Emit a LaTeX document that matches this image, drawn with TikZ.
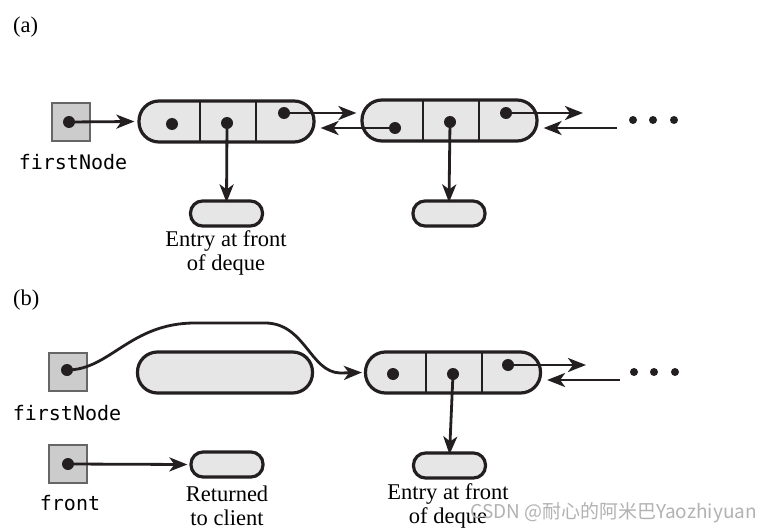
\documentclass[tikz,border=0pt]{standalone}
\usepackage{fontspec}
\setmainfont{Liberation Serif}
\setmonofont{DejaVu Sans Mono}
\newfontfamily\cjkfont{Noto Sans CJK SC}
\usetikzlibrary{arrows.meta}
\definecolor{pillgray}{HTML}{E6E6E6}
\definecolor{boxgray}{HTML}{CCCCCC}
\definecolor{ink}{HTML}{231F20}
\tikzset{
  pill/.style={draw=ink, line width=3.2pt, fill=pillgray, rounded corners=20pt, minimum width=175pt, minimum height=41pt, inner sep=0pt},
  smallpill/.style={draw=ink, line width=3.2pt, fill=pillgray, rounded corners=12pt, minimum width=72pt, minimum height=25pt, inner sep=0pt},
  refbox/.style={draw=black!60, line width=1.6pt, fill=boxgray, minimum size=38pt, inner sep=0pt},
  blob/.style={circle, fill=ink, minimum size=12pt, inner sep=0pt},
  edot/.style={circle, fill=ink, minimum size=8pt, inner sep=0pt},
  divider/.style={draw=ink, line width=2.6pt},
  ptr/.style={draw=ink, line width=2.8pt, -{Stealth[length=18pt,width=14pt,inset=5pt]}},
  codelabel/.style={font=\ttfamily\fontsize{20}{22}\selectfont, inner sep=0pt},
  textlabel/.style={font=\fontsize{22.5}{24}\selectfont, align=center, inner sep=0pt},
}
\begin{document}
\begin{tikzpicture}[x=1pt,y=-1pt]
\useasboundingbox (0,0) rectangle (771,532);
\fill[white] (0,0) rectangle (771,532);

% ---------------- (a) ----------------
\node[textlabel, anchor=west] (la) at (13,27) {(a)};

\node[refbox] (fa) at (71,122) {};
\node[blob] (fad) at (69,122) {};
\node[codelabel] (fal) at (73,162) {firstNode};

\node[pill] (n1) at (226.5,121.5) {};
\draw[divider] (200,101) -- (200,142);
\draw[divider] (256,101) -- (256,142);
\node[blob] (d11) at (172,124) {};
\node[blob] (d12) at (227,123) {};
\node[blob] (d13) at (284,113) {};

\node[pill] (n2) at (449.5,120.5) {};
\draw[divider] (423,100) -- (423,141);
\draw[divider] (479,100) -- (479,141);
\node[blob] (d21) at (395,128) {};
\node[blob] (d22) at (450,122) {};
\node[blob] (d23) at (506,113) {};

\node[smallpill] (e1) at (226.5,213.5) {};
\node[smallpill] (e2) at (449,213.5) {};
\node[textlabel] (t1) at (226,253) {Entry at front\\of deque};

\coordinate (a1) at (583,113);
\coordinate (a2) at (617,128);
\node[edot] (x1) at (633,120) {};
\node[edot] (x2) at (653,120) {};
\node[edot] (x3) at (674,120) {};

\draw[ptr] (fad.center) -- ([xshift=-3pt]n1.west);
\draw[ptr] (d13.center) -- ([xshift=-4pt]d13.center -| n2.west);
\draw[ptr] (d21.center) -- ([xshift=5pt]d21.center -| n1.east);
\draw[ptr] (d23.center) -- (a1);
\draw[ptr] (a2) -- ([xshift=5pt]a2 -| n2.east);
\draw[ptr] (d12.center) -- ([yshift=-3pt]e1.north);
\draw[ptr] (d22.center) -- ([yshift=-3pt]e2.north);

% ---------------- (b) ----------------
\node[textlabel, anchor=west] (lb) at (13,300) {(b)};

\node[refbox] (fb) at (68,372) {};
\node[blob] (fbd) at (67,370) {};
\node[codelabel] (fbl) at (67,413) {firstNode};

\node[pill] (old) at (225,372.5) {};

\node[pill] (n3) at (453,372.5) {};
\draw[divider] (426,352) -- (426,393);
\draw[divider] (482,352) -- (482,393);
\node[blob] (d31) at (393,374) {};
\node[blob] (d32) at (453,374) {};
\node[blob] (d33) at (508,365) {};

\node[smallpill] (e3) at (449.5,465.5) {};
\node[textlabel] (t3) at (448,506) {Entry at front\\of deque};

\coordinate (b1) at (586,365);
\coordinate (b2) at (620,380);
\node[edot] (y1) at (634,372) {};
\node[edot] (y2) at (654,372) {};
\node[edot] (y3) at (675,372) {};

\node[refbox] (fr) at (68,464) {};
\node[blob] (frd) at (68,464) {};
\node[codelabel] (frl) at (70,503) {front};
\node[smallpill] (r1) at (227,464.5) {};
\node[textlabel] (t2) at (227,506) {Returned\\to client};

\draw[ptr] (fbd.center) .. controls (110,370) and (130,323) .. (195,323)
  -- (265,323) .. controls (305,323) and (310,372) .. (340,373)
  -- ([xshift=-2pt]n3.west);
\draw[ptr] (d33.center) -- (b1);
\draw[ptr] (b2) -- ([xshift=5pt]b2 -| n3.east);
\draw[ptr] (d32.center) -- ([yshift=-3pt]e3.north);
\draw[ptr] (frd.center) -- ([xshift=-2pt]r1.west);

% watermark
\node[font=\cjkfont\fontsize{19}{21}\selectfont, text=black!30, anchor=east, inner sep=0pt] (wm) at (757,513) {CSDN @耐心的阿米巴Yaozhiyuan};
\end{tikzpicture}
\end{document}
